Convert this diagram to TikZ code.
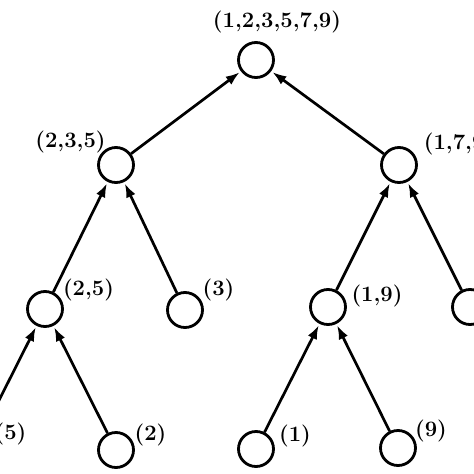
\documentclass[tikz,border=0pt]{standalone}
\usetikzlibrary{arrows.meta}
\begin{document}
\begin{tikzpicture}[x=1pt,y=-1pt,
  vert/.style={circle,draw,line width=2.8pt,minimum size=35pt,inner sep=0pt},
  lab/.style={inner sep=0pt,anchor=center,font=\fontsize{22}{26}\selectfont\bfseries},
  edge/.style={line width=2.7pt,-{Latex[length=14pt,width=10pt]},shorten >=1.5pt}]
\useasboundingbox (0,0) rectangle (474,474);
\clip (0,0) rectangle (474,474);
\fill[white] (0,0) rectangle (474,474);
% vertices
\node[vert] (r) at (256,60) {};
\node[vert] (a) at (116,165) {};
\node[vert] (b) at (399,165) {};
\node[vert] (c) at (45,309) {};
\node[vert] (d) at (185,310) {};
\node[vert] (e) at (328,307) {};
\node[vert] (f) at (470,307) {};
\node[vert] (g) at (-26,450) {};
\node[vert] (h) at (116,450) {};
\node[vert] (i) at (256,449) {};
\node[vert] (j) at (398,448) {};
% labels
\node[lab] (lr) at (277,22) {(1,2,3,5,7,9)};
\node[lab] (la) at (70.5,142.5) {(2,3,5)};
\node[lab] (lb) at (459,144) {(1,7,9)};
\node[lab] (lc) at (88.5,290.5) {(2,5)};
\node[lab] (ld) at (218.5,290.5) {(3)};
\node[lab] (le) at (377,296) {(1,9)};
\node[lab] (lg) at (10.5,434.5) {(5)};
\node[lab] (lh) at (150.5,435) {(2)};
\node[lab] (li) at (295,436.5) {(1)};
\node[lab] (lj) at (431,431.5) {(9)};
% edges
\draw[edge] (a) -- (r);
\draw[edge] (b) -- (r);
\draw[edge] (c) -- (a);
\draw[edge] (d) -- (a);
\draw[edge] (e) -- (b);
\draw[edge] (f) -- (b);
\draw[edge] (g) -- (c);
\draw[edge] (h) -- (c);
\draw[edge] (i) -- (e);
\draw[edge] (j) -- (e);
\end{tikzpicture}
\end{document}
